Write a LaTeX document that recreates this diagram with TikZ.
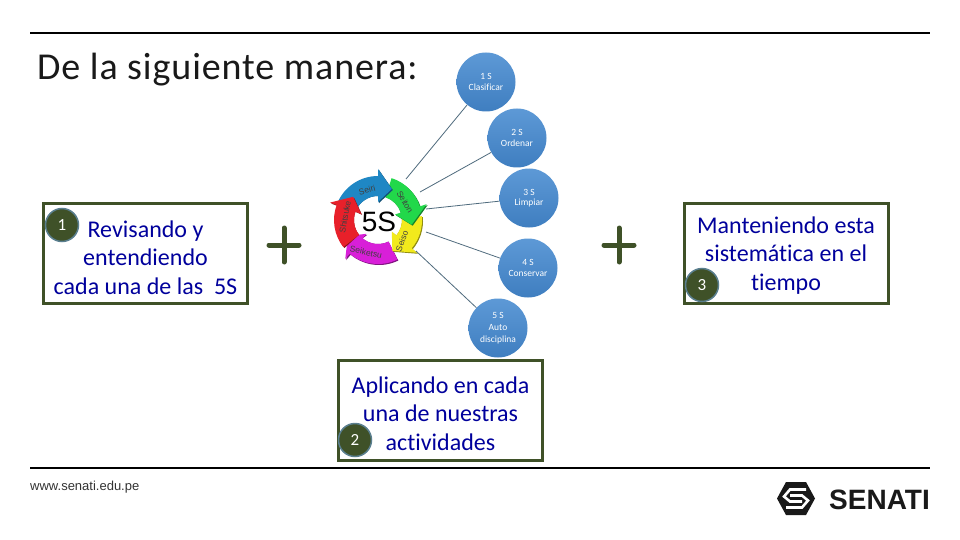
\documentclass[tikz,border=0pt]{standalone}
\usepackage{fontspec}
\setmainfont[Ligatures=NoCommon]{Carlito}
\newfontfamily\arialf{Liberation Sans}
\definecolor{boxgreen}{HTML}{3F5128}
\definecolor{ringgrey}{HTML}{5A7F8F}
\definecolor{txtblue}{HTML}{00009C}
\definecolor{linegrey}{HTML}{4F6B7D}
\definecolor{ballA}{HTML}{5D99D6}
\definecolor{ballB}{HTML}{3F7EC0}
\tikzset{
  x=1pt,y=-1pt,
  rulel/.style={line width=2pt,black},
  textbox/.style={draw=boxgreen,line width=3pt,fill=white,minimum width=204pt,minimum height=100pt,inner sep=0pt},
  boxtext/.style={inner sep=0pt,align=center,text=txtblue,font=\fontsize{24}{28.6}\selectfont},
  badge/.style={circle,draw=ringgrey,line width=1.5pt,fill=boxgreen,text=white,minimum size=33pt,inner sep=0pt,font=\fontsize{17}{20}\selectfont},
  ball/.style={circle,top color=ballA,bottom color=ballB,minimum size=59pt,inner sep=0pt,align=center,text=white,font=\fontsize{9.5}{10.5}\selectfont},
  link/.style={draw=linegrey,line width=.8pt},
  plusl/.style={line width=5pt,boxgreen,line cap=round},
  wheeltxt/.style={font=\fontsize{8.5}{10}\selectfont\arialf,text=black!75,inner sep=0pt}
}
\newcommand{\wseg}[4]{% colour, start, head base, tip (clockwise angles)
  \fill[#1!60!black] ([xshift=1pt,yshift=-1pt]#2:44pt) arc[start angle=#2,end angle=#3,radius=44pt] -- ([xshift=1pt,yshift=-1pt]#3:51pt) -- ([xshift=1pt,yshift=-1pt]#4:34pt) -- ([xshift=1pt,yshift=-1pt]#3:18pt) -- (#3:24pt) arc[start angle=#3,end angle=#2,radius=24pt] -- cycle;
  \fill[#1] (#2:44pt) arc[start angle=#2,end angle=#3,radius=44pt] -- (#3:51pt) -- (#4:34pt) -- (#3:18pt) -- (#3:24pt) arc[start angle=#3,end angle=#2,radius=24pt] -- cycle;
}
\begin{document}
\begin{tikzpicture}
\useasboundingbox (0,0) rectangle (960,540);
\fill[white] (0,0) rectangle (960,540);
\coordinate (ta) at (30,33); \coordinate (tb) at (930,33);
\coordinate (ba) at (30,468); \coordinate (bb) at (930,468);
\draw[rulel] (ta) -- (tb);
\draw[rulel] (ba) -- (bb);
\node[anchor=west,inner sep=0pt,font=\fontsize{38}{40}\selectfont\addfontfeature{LetterSpace=2.4},text=black!90] (title) at (37,70) {De la siguiente manera:};
\node[anchor=west,inner sep=0pt,font=\fontsize{13}{15}\selectfont\arialf,text=black!80] (web) at (30,487) {www.senati.edu.pe};
% wheel
\begin{scope}[shift={(378,220)},y=1pt,x=1pt]
  \definecolor{wblue}{HTML}{1F87C4}
  \definecolor{wgreen}{HTML}{22D84A}
  \definecolor{wyellow}{HTML}{F2EA1C}
  \definecolor{wmag}{HTML}{D81FD8}
  \definecolor{wred}{HTML}{E8202A}
  \wseg{wmag}{296}{230}{208}
  \wseg{wyellow}{5}{-40}{-65}
  \wseg{wgreen}{72}{18}{-8}
  \wseg{wblue}{156}{90}{66}
  \wseg{wred}{218}{160}{137}
  \node[wheeltxt,rotate=15] (w1) at (-11,30) {Seiri};
  \node[wheeltxt,rotate=-60] (w2) at (27,18) {Seiton};
  \node[wheeltxt,rotate=70] (w3) at (24,-21) {Seiso};
  \node[wheeltxt,rotate=-12] (w4) at (-12,-32) {Seiketsu};
  \node[wheeltxt,rotate=80] (w5) at (-33,3) {Shitsuke};
  \node[font=\fontsize{28}{30}\selectfont\arialf,inner sep=0pt,text=black] (five) at (1,-2) {5S};
\end{scope}
\coordinate (c1) at (406,179);
\coordinate (c2) at (420,192);
\coordinate (c3) at (426,209);
\coordinate (c4) at (426,232);
\coordinate (c5) at (416,251);
\node[ball] (b1) at (486,82) {1 S\\Clasificar};
\node[ball] (b2) at (517,138) {2 S\\Ordenar};
\node[ball] (b3) at (529,198) {3 S\\Limpiar};
\node[ball] (b4) at (528,268) {4 S\\Conservar};
\node[ball,font=\fontsize{9.5}{12}\selectfont] (b5) at (498,328) {5 S\\Auto\\disciplina};
\draw[link] (c1) -- (b1);
\draw[link] (c2) -- (b2);
\draw[link] (c3) -- (b3);
\draw[link] (c4) -- (b4);
\draw[link] (c5) -- (b5);
% boxes
\node[textbox] (box1) at (145.5,253.5) {};
\node[boxtext] (t1) at (145.5,257.5) {Revisando y\\entendiendo\\cada una de las\ \ 5S};
\node[badge] (n1) at (62,225) {1};
\node[textbox] (box2) at (440.5,410.5) {};
\node[boxtext] (t2) at (440.5,413.5) {Aplicando en cada\\una de nuestras\\actividades};
\node[badge] (n2) at (355,440) {2};
\node[textbox] (box3) at (786,253.5) {};
\node[boxtext] (t3) at (786,255.5) {Manteniendo esta\\sistemática en el\\tiempo};
\node[badge] (n3) at (702,285) {3};
% plus
\coordinate (p1) at (284,245); \coordinate (p2) at (619,245);
\draw[plusl] ([xshift=-15pt]p1) -- ([xshift=15pt]p1);
\draw[plusl] ([yshift=-17pt]p1) -- ([yshift=17pt]p1);
\draw[plusl] ([xshift=-15pt]p2) -- ([xshift=15pt]p2);
\draw[plusl] ([yshift=-17pt]p2) -- ([yshift=17pt]p2);
% logo
\begin{scope}[shift={(796,498.5)}]
  \fill[black!90] (-19,0) -- (-10,-16.5) -- (10,-16.5) -- (19,0) -- (10,16.5) -- (-10,16.5) -- cycle;
  \draw[white,line width=2.6pt,line join=miter]
    (10,-9) -- (-6,-9) -- (-12,-2) -- (-6,3) -- (6,3);
  \draw[white,line width=2.6pt,line join=miter]
    (-10,9) -- (6,9) -- (12,2) -- (6,-3) -- (-6,-3);
\end{scope}
\node[anchor=west,inner sep=0pt,font=\fontsize{28}{30}\selectfont\bfseries\arialf,text=black!90] (senati) at (829,499.5) {SENATI};
\end{tikzpicture}
\end{document}
